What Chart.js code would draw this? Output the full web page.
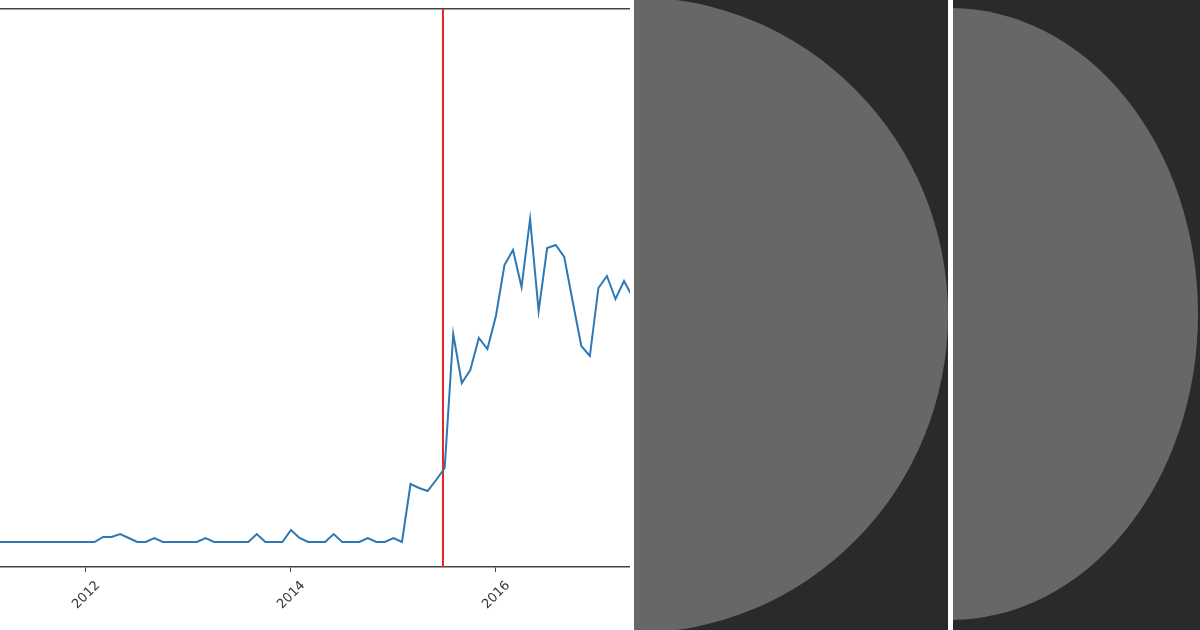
<!DOCTYPE html>
<html>
<head>
<meta charset="UTF-8">
<script src="https://cdn.jsdelivr.net/npm/chart.js"></script>
<style>
    html, body { margin: 0; padding: 0; background: #fff; }
    #wrap { position: relative; width: 1200px; height: 630px; overflow: hidden; }
    #chartBox { position: absolute; left: 0; top: 0; width: 630px; height: 630px; }
    .panel { position: absolute; top: 0; height: 630px; background: #2a2a2a; overflow: hidden; }
    .half { position: absolute; background: #676767; border-radius: 50%; }
</style>
</head>
<body>
<div id="wrap">
    <div id="chartBox"><canvas id="trend"></canvas></div>
    <div class="panel" style="left:634px;width:314px;">
        <div class="half" style="left:-314px;top:-3px;width:628px;height:636px;"></div>
    </div>
    <div class="panel" style="left:953px;width:247px;">
        <div class="half" style="left:-250px;top:8px;width:495px;height:612px;"></div>
    </div>
</div>
<script>
// month index counted from Jan 2011 (= 0)
const months = [];
for (let k = 1; k <= 76; k++) months.push(k);
const values = [
    0, 0, 0, 0, 0, 0, 0, 0, 0, 0, 0, 0,      // k 1-12
    0, 5, 5, 8, 4, 0, 0, 4, 0, 0, 0, 0,      // k 13-24
    0, 4, 0, 0, 0, 0, 0, 8, 0, 0, 0, 12,     // k 25-36
    4, 0, 0, 0, 8, 0, 0, 0, 4, 0, 0, 4,      // k 37-48
    0, 58, 54, 51, 62, 74, 208, 159, 172, 204, 193, 226, // k 49-60
    277, 292, 255, 323, 231, 294, 297, 285, 240, 196, 186, 254, // k 61-72
    266, 243, 261, 245                        // k 73-76
];
const tickMonths = [12, 36, 60];
const startYear = 2011;
const markerMonth = 53.8;

const points = months.map((m, i) => ({ x: m, y: values[i] }));

new Chart(document.getElementById('trend'), {
    type: 'line',
    data: {
        datasets: [
            {
                data: points,
                borderColor: '#2f78b3',
                borderWidth: 2,
                pointRadius: 0,
                tension: 0
            },
            {
                data: [{ x: markerMonth, y: -25 }, { x: markerMonth, y: 533 }],
                borderColor: '#e3262a',
                borderWidth: 2,
                pointRadius: 0
            }
        ]
    },
    options: {
        responsive: true,
        maintainAspectRatio: false,
        animation: false,
        layout: { padding: { top: 9, left: 0, right: 0, bottom: 0 } },
        plugins: { legend: { display: false }, tooltip: { enabled: false } },
        scales: {
            x: {
                type: 'linear',
                min: 1.93,
                max: 75.7,
                afterBuildTicks: s => { s.ticks = tickMonths.map(v => ({ value: v })); },
                afterFit: s => { s.height = 63; },
                ticks: {
                    minRotation: 45,
                    maxRotation: 45,
                    labelOffset: 12,
                    padding: 6,
                    color: '#333',
                    font: { family: 'DejaVu Sans', size: 13 },
                    callback: v => String(startYear + v / 12)
                },
                grid: { drawOnChartArea: false, tickLength: 5, color: '#444' },
                border: { color: '#444', width: 1.5 }
            },
            x2: {
                type: 'linear',
                position: 'top',
                min: 1.93,
                max: 75.7,
                afterFit: s => { s.height = 0; },
                ticks: { display: false },
                grid: { display: false },
                border: { color: '#444', width: 1.5 }
            },
            y: { display: false, min: -25, max: 533 }
        }
    }
});
</script>
</body>
</html>
